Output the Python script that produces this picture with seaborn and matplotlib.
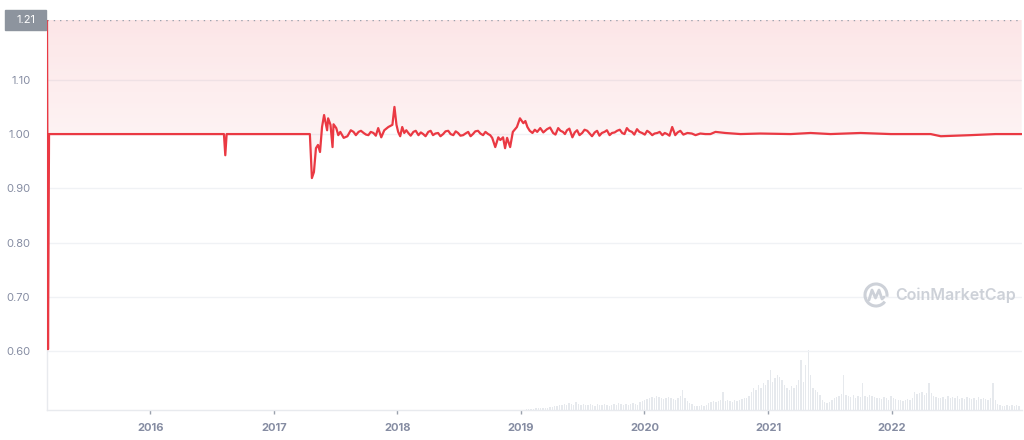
import numpy as np
import pandas as pd
import matplotlib
matplotlib.use("Agg")
import matplotlib.pyplot as plt
import matplotlib.dates as mdates
from matplotlib.colors import LinearSegmentedColormap
from matplotlib.patches import Rectangle, Arc
from matplotlib.lines import Line2D
import seaborn as sns

# ---------------- data ----------------
open_price = 1.21

price_dates = [
    "2015-03-02", "2015-03-05", "2015-03-08", "2016-08-06", "2016-08-10", "2016-08-14",
    "2017-04-17", "2017-04-23", "2017-04-29", "2017-05-05", "2017-05-11", "2017-05-17",
    "2017-05-23", "2017-05-29", "2017-06-07", "2017-06-10", "2017-06-17", "2017-06-23",
    "2017-06-26", "2017-07-04", "2017-07-10", "2017-07-16", "2017-07-26", "2017-08-06",
    "2017-08-16", "2017-08-24", "2017-08-31", "2017-09-08", "2017-09-15", "2017-09-23",
    "2017-09-30", "2017-10-07", "2017-10-14", "2017-10-22", "2017-10-29", "2017-11-05",
    "2017-11-14", "2017-11-23", "2017-12-05", "2017-12-17", "2017-12-23", "2017-12-29",
    "2018-01-03", "2018-01-09", "2018-01-15", "2018-01-21", "2018-01-27", "2018-02-02",
    "2018-02-09", "2018-02-17", "2018-02-24", "2018-03-04", "2018-03-11", "2018-03-18",
    "2018-03-25", "2018-04-02", "2018-04-09", "2018-04-16", "2018-04-23", "2018-05-01",
    "2018-05-08", "2018-05-16", "2018-05-23", "2018-05-31", "2018-06-07", "2018-06-15",
    "2018-06-22", "2018-06-29", "2018-07-06", "2018-07-14", "2018-07-21", "2018-07-29",
    "2018-08-05", "2018-08-12", "2018-08-19", "2018-08-27", "2018-09-03", "2018-09-11",
    "2018-09-18", "2018-09-26", "2018-10-02", "2018-10-08", "2018-10-17", "2018-10-26",
    "2018-11-01", "2018-11-09", "2018-11-15", "2018-11-21", "2018-11-30", "2018-12-08",
    "2018-12-20", "2018-12-29", "2019-01-08", "2019-01-14", "2019-01-20", "2019-01-27",
    "2019-02-04", "2019-02-11", "2019-02-18", "2019-02-27", "2019-03-08", "2019-03-19",
    "2019-03-28", "2019-04-06", "2019-04-13", "2019-04-21", "2019-04-28", "2019-05-05",
    "2019-05-11", "2019-05-17", "2019-05-24", "2019-06-02", "2019-06-09", "2019-06-16",
    "2019-06-23", "2019-07-01", "2019-07-08", "2019-07-16", "2019-07-23", "2019-07-30",
    "2019-08-07", "2019-08-14", "2019-08-21", "2019-08-28", "2019-09-05", "2019-09-12",
    "2019-09-20", "2019-09-27", "2019-10-05", "2019-10-12", "2019-10-20", "2019-10-27",
    "2019-11-03", "2019-11-10", "2019-11-17", "2019-11-25", "2019-12-02", "2019-12-10",
    "2019-12-17", "2019-12-25", "2020-01-02", "2020-01-09", "2020-01-16", "2020-01-24",
    "2020-01-31", "2020-02-08", "2020-02-15", "2020-02-23", "2020-03-01", "2020-03-08",
    "2020-03-15", "2020-03-23", "2020-04-01", "2020-04-08", "2020-04-16", "2020-04-25",
    "2020-05-07", "2020-05-20", "2020-05-31", "2020-06-14", "2020-06-29", "2020-07-14",
    "2020-07-29", "2020-08-12", "2020-08-27", "2020-09-20", "2020-10-11", "2020-12-08",
    "2021-03-08", "2021-05-06", "2021-07-04", "2021-10-01", "2021-12-29", "2022-04-26",
    "2022-05-26", "2022-08-22", "2022-11-04", "2023-01-20",
]
price_values = [
    1.210, 0.604, 1.000, 1.000, 0.961, 1.000,
    1.000, 0.919, 0.930, 0.974, 0.980, 0.967,
    1.013, 1.035, 1.007, 1.029, 1.017, 0.976,
    1.018, 1.011, 0.998, 1.004, 0.993, 0.996,
    1.007, 1.004, 0.998, 1.004, 1.006, 1.002,
    0.999, 0.998, 1.004, 1.002, 0.997, 1.011,
    0.994, 1.007, 1.013, 1.017, 1.050, 1.017,
    1.004, 0.996, 1.013, 1.002, 1.007, 1.002,
    0.997, 1.004, 1.006, 0.998, 1.003, 1.000,
    0.996, 1.004, 1.006, 0.998, 1.001, 1.002,
    0.996, 1.000, 1.005, 1.006, 1.000, 0.998,
    1.005, 1.002, 0.997, 0.998, 1.001, 1.004,
    0.996, 1.000, 1.005, 1.006, 1.001, 0.998,
    1.004, 1.000, 0.998, 0.993, 0.976, 0.994,
    0.989, 0.994, 0.974, 0.993, 0.976, 1.004,
    1.013, 1.029, 1.020, 1.024, 1.013, 1.006,
    1.002, 1.008, 1.004, 1.011, 1.003, 1.009,
    1.012, 1.002, 0.999, 1.011, 1.006, 1.004,
    1.000, 1.007, 1.010, 0.994, 1.003, 1.007,
    0.998, 1.002, 1.008, 1.006, 1.001, 0.996,
    1.003, 1.006, 0.997, 1.002, 1.004, 1.007,
    0.998, 1.002, 1.003, 1.006, 1.008, 1.002,
    1.000, 1.011, 1.006, 1.004, 0.999, 1.009,
    1.004, 1.002, 0.999, 1.006, 1.003, 0.998,
    1.001, 1.002, 1.004, 0.998, 1.002, 1.000,
    0.997, 1.013, 0.998, 1.003, 1.006, 0.999,
    1.002, 1.001, 0.998, 1.001, 1.000, 1.000,
    1.004, 1.003, 1.002, 1.001, 1.000, 1.001,
    1.000, 1.002, 1.000, 1.002, 1.000, 1.000,
    0.996, 0.998, 1.000, 1.000,
]

# weekly trading volume (relative units), one list per year
volume_start = "2019-01-03"
volume_2019 = [0.5, 0.5, 1, 1, 1.5, 1.5, 2, 2, 2, 2, 2.5, 2, 3,
               3, 4, 4, 5, 5, 6, 5, 7, 6, 5, 8, 6, 5,
               6, 5, 5, 6, 5, 4, 6, 5, 5, 6, 5, 4, 5,
               6, 5, 7, 6, 5, 6, 5, 6, 7, 6, 5, 8, 9]
volume_2020 = [10, 11, 12, 13, 12, 14, 13, 12, 11, 12, 13, 12, 11,
               10, 12, 14, 20, 12, 9, 7, 6, 4, 4, 4, 5, 4,
               5, 7, 8, 9, 8, 9, 10, 18, 9, 10, 9, 8, 10,
               9, 10, 11, 12, 12, 14, 18, 22, 20, 25, 22, 27, 25]
volume_2021 = [30, 40, 28, 32, 35, 33, 30, 25, 22, 20, 24, 22, 25,
               30, 50, 28, 45, 60, 35, 22, 20, 18, 15, 10, 8, 7,
               8, 10, 12, 13, 14, 16, 35, 15, 14, 13, 15, 12, 14,
               13, 27, 14, 13, 15, 14, 13, 12, 12, 11, 13, 12, 10]
volume_2022 = [14, 12, 11, 10, 10, 9, 10, 11, 10, 12, 18, 16, 17,
               18, 15, 17, 27, 17, 14, 13, 12, 12, 13, 11, 14, 12,
               13, 12, 14, 11, 12, 11, 13, 12, 11, 12, 10, 13, 11,
               12, 11, 10, 12, 27, 10, 6, 5, 4, 4, 5, 4, 5]
volume_2023 = [4, 5, 4]

year_labels = ["2016", "2017", "2018", "2019", "2020", "2021", "2022"]
y_ticks = [0.60, 0.70, 0.80, 0.90, 1.00, 1.10]

# ---------------- styling ----------------
sns.set_theme(style="white")
plt.rcParams["font.family"] = ["Inter", "DejaVu Sans"]

RED = "#ea3943"
GREY_TXT = "#858ca2"

price = pd.DataFrame({"date": pd.to_datetime(price_dates), "price": price_values})
vol_vals = volume_2019 + volume_2020 + volume_2021 + volume_2022 + volume_2023
volume = pd.DataFrame({
    "date": pd.date_range(volume_start, periods=len(vol_vals), freq="7D"),
    "volume": vol_vals,
})

x_start = pd.Timestamp("2015-03-02")
x_end = pd.Timestamp("2023-01-21")
y_lo, y_hi = 0.492, open_price

fig = plt.figure(figsize=(10.24, 4.4), dpi=100)
rect = [47 / 1024, 30 / 440, 975 / 1024, 390 / 440]
axv = fig.add_axes(rect)
ax = fig.add_axes(rect, sharex=axv)
axv.set_zorder(1)
ax.set_zorder(2)
ax.patch.set_visible(False)

# volume bars
axv.bar(volume["date"], volume["volume"], width=4.0, color="#e6e9ed", linewidth=0)
axv.set_ylim(0, 390)
axv.set_yticks([])
for s in axv.spines.values():
    s.set_visible(False)

# price line
sns.lineplot(data=price, x="date", y="price", ax=ax, color=RED, linewidth=1.6,
             zorder=5, estimator=None)

# gradient fill between price and opening price
poly = ax.fill_between(price["date"], price["price"], open_price,
                       facecolor="none", edgecolor="none")
cmap = LinearSegmentedColormap.from_list(
    "fade", [(1, 1, 1, 0), (234 / 255, 57 / 255, 67 / 255, 0.13)])
grad = np.linspace(0, 1, 256).reshape(-1, 1)
x0, x1 = mdates.date2num(x_start), mdates.date2num(x_end)
im = ax.imshow(grad, extent=[x0, x1, y_lo, y_hi], origin="lower",
               aspect="auto", cmap=cmap, zorder=2)
im.set_clip_path(poly.get_paths()[0], transform=ax.transData)

# opening price dotted line
ax.axhline(open_price, color="#9aa1ad", lw=1.0, ls=(0, (1, 3.5)), zorder=3)

ax.set_xlim(x_start, x_end)
ax.set_ylim(y_lo, y_hi)

ax.set_yticks(y_ticks)
ax.set_yticklabels([f"{v:.2f}" for v in y_ticks])
ax.tick_params(axis="y", length=0, pad=12, labelsize=8, labelcolor=GREY_TXT)
ax.grid(axis="y", color="#f0f2f5", lw=1)
ax.grid(axis="x", visible=False)

ax.set_xticks([pd.Timestamp(f"{y}-01-01") for y in year_labels])
ax.set_xticklabels(year_labels, fontweight="bold")
ax.tick_params(axis="x", length=3, width=1, color="#9aa1ad", pad=6,
               labelsize=8, labelcolor=GREY_TXT, direction="out", bottom=True)
axv.tick_params(axis="x", bottom=False, labelbottom=False)

ax.set_xlabel("")
ax.set_ylabel("")
for side in ["top", "right"]:
    ax.spines[side].set_visible(False)
for side in ["left", "bottom"]:
    ax.spines[side].set_color("#e8eaee")
    ax.spines[side].set_linewidth(1)

# opening price label box
fig.add_artist(Rectangle((5 / 1024, (440 - 30) / 440), 41 / 1024, 20 / 440,
                         transform=fig.transFigure, color="#8d949e", zorder=10))
fig.text(26 / 1024, (440 - 20) / 440, f"{open_price:.2f}", ha="center",
         va="center", color="white", fontsize=8, zorder=11)

# watermark
wm = "#cdd1d8"
cx, cy, r = 876, 440 - 295, 11
fig.add_artist(Arc((cx / 1024, cy / 440), 2 * r / 1024, 2 * r / 440,
                   theta1=-20, theta2=300, transform=fig.transFigure,
                   color=wm, lw=2.2, zorder=10))
mx = [869, 872, 875.5, 879, 882, 884]
my = [300, 290, 298, 290, 299, 297]
fig.add_artist(Line2D([v / 1024 for v in mx], [(440 - v) / 440 for v in my],
                      transform=fig.transFigure, color=wm, lw=2, zorder=10,
                      solid_joinstyle="round", solid_capstyle="round"))
fig.text(895 / 1024, (440 - 295) / 440, "CoinMarketCap", ha="left", va="center",
         color=wm, fontsize=11.5, fontweight="semibold", zorder=10)

fig.savefig("out.png", dpi=100)
